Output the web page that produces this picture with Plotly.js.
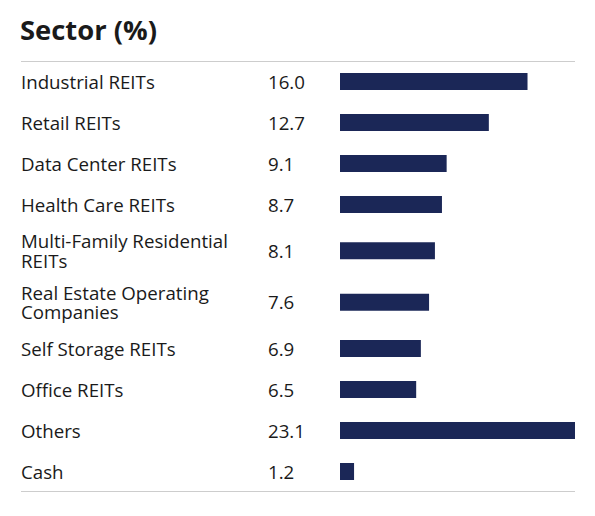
<!DOCTYPE html>
<html>
<head>
<meta charset="utf-8">
<script src="https://cdn.plot.ly/plotly-3.0.1.min.js"></script>
<style>
  html, body { margin: 0; padding: 0; background: #ffffff; }
  #chart { width: 595px; height: 516px; }
</style>
</head>
<body>
<div id="chart"></div>
<script>
// ---- data ----
const chartTitle = "Sector (%)";
const categories = [
  "Industrial REITs",
  "Retail REITs",
  "Data Center REITs",
  "Health Care REITs",
  "Multi-Family Residential\nREITs",
  "Real Estate Operating\nCompanies",
  "Self Storage REITs",
  "Office REITs",
  "Others",
  "Cash"
];
const values = [16.0, 12.7, 9.1, 8.7, 8.1, 7.6, 6.9, 6.5, 23.1, 1.2];

// ---- layout geometry (pixels) ----
const W = 595, H = 516;
const plotLeft = 340, plotRight = 575;
const plotTop = 61;
const singleRow = 41, extraPerLine = 10.5;
const lineGap = 19.5;
const labelX = 20, valueX = 266, ruleLeft = 21;
const barColor = "#1b2757";
const textColor = "#1a1a1a";
const ruleColor = "#bdbdbd";
const fontFamily = "'Open Sans', 'Noto Sans', sans-serif";
const labelSize = 18.7;
const pxPerUnit = 11.72;

const plotW = plotRight - plotLeft;
const px2paper = p => (p - plotLeft) / plotW;

// row centres from number of label lines
const lines = categories.map(c => c.split("\n"));
const heights = lines.map(l => singleRow + extraPerLine * (l.length - 1));
const centers = [];
let acc = 0;
heights.forEach(h => { centers.push(acc + h / 2); acc += h; });
const totalH = acc;

const annotations = [];
lines.forEach((ls, i) => {
  ls.forEach((t, j) => {
    const off = (j - (ls.length - 1) / 2) * lineGap;
    annotations.push({
      text: t, xref: "paper", yref: "y",
      x: px2paper(labelX), y: centers[i] + off - 0.5,
      xanchor: "left", yanchor: "middle", showarrow: false,
      borderpad: 0,
      font: { family: fontFamily, size: labelSize, color: textColor }
    });
  });
  annotations.push({
    text: values[i].toFixed(1), xref: "paper", yref: "y",
    x: px2paper(valueX), y: centers[i] - 0.5,
    xanchor: "left", yanchor: "middle", showarrow: false,
    font: { family: fontFamily, size: labelSize, color: textColor }
  });
});

const shapes = [0, totalH].map(yv => ({
  type: "line", xref: "paper", yref: "y",
  x0: px2paper(ruleLeft), x1: 1, y0: yv, y1: yv,
  line: { color: ruleColor, width: 1.5 }
}));

const trace = {
  type: "bar", orientation: "h",
  x: values, y: centers, width: 17,
  marker: { color: barColor, line: { width: 0 } },
  hoverinfo: "none"
};

const layout = {
  width: W, height: H,
  margin: { l: plotLeft, r: W - plotRight, t: plotTop, b: H - plotTop - totalH, pad: 0 },
  paper_bgcolor: "#ffffff", plot_bgcolor: "#ffffff",
  showlegend: false,
  title: {
    text: chartTitle, xref: "container", yref: "container",
    x: 20 / W, xanchor: "left", y: 1 - 30 / H, yanchor: "middle",
    font: { family: fontFamily, size: 27.4, color: textColor, weight: 700 }
  },
  xaxis: { range: [0, plotW / pxPerUnit], visible: false, fixedrange: true },
  yaxis: { range: [totalH, 0], visible: false, fixedrange: true },
  annotations: annotations,
  shapes: shapes
};

Plotly.newPlot("chart", [trace], layout, { staticPlot: true, displayModeBar: false });
</script>
</body>
</html>
